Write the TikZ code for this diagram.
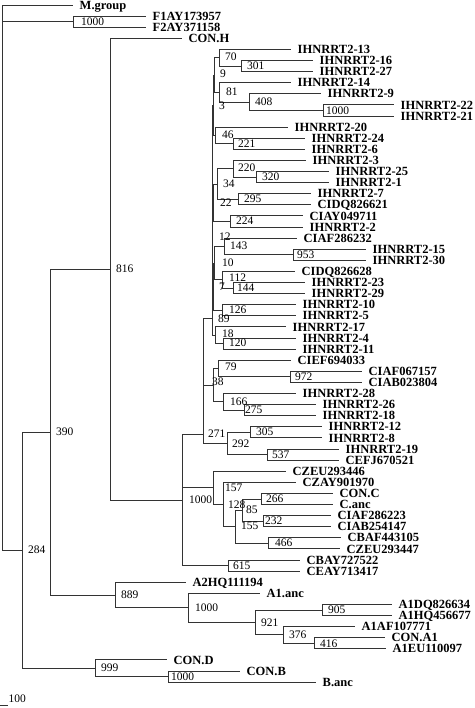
\documentclass[tikz,border=0pt]{standalone}
\usepackage{fontspec}
\setmainfont{Liberation Serif}
\begin{document}
\begin{tikzpicture}[x=1pt,y=-1pt,
  leaf/.style={anchor=west, inner xsep=6.5pt, inner ysep=0pt, text height=8.3pt, text depth=0pt, font=\bfseries\fontsize{12.5}{13}\selectfont},
  bs/.style={anchor=west, inner sep=0pt, text height=7.8pt, text depth=0pt, font=\fontsize{11.5}{12}\selectfont},
  br/.style={draw=black!80, line width=0.9pt}]
\useasboundingbox (0,0) rectangle (474,708);
% leaves
\node[leaf] (L1) at (73,5) {M.group};
\node[leaf] (L2) at (146,16.1) {F1AY173957};
\node[leaf] (L3) at (146,27.2) {F2AY371158};
\node[leaf] (L4) at (182,38.3) {CON.H};
\node[leaf] (L5) at (291,49.4) {IHNRRT2-13};
\node[leaf] (L6) at (313,60.5) {IHNRRT2-16};
\node[leaf] (L7) at (313,71.6) {IHNRRT2-27};
\node[leaf] (L8) at (291,82.7) {IHNRRT2-14};
\node[leaf] (L9) at (321,93.8) {IHNRRT2-9};
\node[leaf] (L10) at (394,104.9) {IHNRRT2-22};
\node[leaf] (L11) at (394,116.0) {IHNRRT2-21};
\node[leaf] (L12) at (288,127.1) {IHNRRT2-20};
\node[leaf] (L13) at (305,138.2) {IHNRRT2-24};
\node[leaf] (L14) at (305,149.3) {IHNRRT2-6};
\node[leaf] (L15) at (306,160.4) {IHNRRT2-3};
\node[leaf] (L16) at (329,171.5) {IHNRRT2-25};
\node[leaf] (L17) at (329,182.6) {IHNRRT2-1};
\node[leaf] (L18) at (311,193.7) {IHNRRT2-7};
\node[leaf] (L19) at (311,204.8) {CIDQ826621};
\node[leaf] (L20) at (303,215.9) {CIAY049711};
\node[leaf] (L21) at (303,227.0) {IHNRRT2-2};
\node[leaf] (L22) at (297,238.1) {CIAF286232};
\node[leaf] (L23) at (366,249.2) {IHNRRT2-15};
\node[leaf] (L24) at (366,260.3) {IHNRRT2-30};
\node[leaf] (L25) at (295,271.4) {CIDQ826628};
\node[leaf] (L26) at (305,282.5) {IHNRRT2-23};
\node[leaf] (L27) at (305,293.6) {IHNRRT2-29};
\node[leaf] (L28) at (296,304.7) {IHNRRT2-10};
\node[leaf] (L29) at (296,315.8) {IHNRRT2-5};
\node[leaf] (L30) at (286,326.9) {IHNRRT2-17};
\node[leaf] (L31) at (296,338.0) {IHNRRT2-4};
\node[leaf] (L32) at (296,349.1) {IHNRRT2-11};
\node[leaf] (L33) at (291,360.2) {CIEF694033};
\node[leaf] (L34) at (362,371.3) {CIAF067157};
\node[leaf] (L35) at (362,382.4) {CIAB023804};
\node[leaf] (L36) at (296,393.5) {IHNRRT2-28};
\node[leaf] (L37) at (316,404.6) {IHNRRT2-26};
\node[leaf] (L38) at (316,415.7) {IHNRRT2-18};
\node[leaf] (L39) at (322,426.8) {IHNRRT2-12};
\node[leaf] (L40) at (322,437.9) {IHNRRT2-8};
\node[leaf] (L41) at (339,449.0) {IHNRRT2-19};
\node[leaf] (L42) at (339,460.1) {CEFJ670521};
\node[leaf] (L43) at (286,471.2) {CZEU293446};
\node[leaf] (L44) at (296,482.3) {CZAY901970};
\node[leaf] (L45) at (333,493.4) {CON.C};
\node[leaf] (L46) at (333,504.5) {C.anc};
\node[leaf] (L47) at (331,515.6) {CIAF286223};
\node[leaf] (L48) at (331,526.7) {CIAB254147};
\node[leaf] (L49) at (341,537.8) {CBAF443105};
\node[leaf] (L50) at (340,548.9) {CZEU293447};
\node[leaf] (L51) at (300,560.0) {CBAY727522};
\node[leaf] (L52) at (300,571.1) {CEAY713417};
\node[leaf] (L53) at (186,582.2) {A2HQ111194};
\node[leaf] (L54) at (260,593.3) {A1.anc};
\node[leaf] (L55) at (392,604.4) {A1DQ826634};
\node[leaf] (L56) at (392,615.5) {A1HQ456677};
\node[leaf] (L57) at (355,626.6) {A1AF107771};
\node[leaf] (L58) at (385,637.7) {CON.A1};
\node[leaf] (L59) at (386,648.8) {A1EU110097};
\node[leaf] (L60) at (167,659.9) {CON.D};
\node[leaf] (L61) at (240,671.0) {CON.B};
\node[leaf] (L62) at (316,682.1) {B.anc};
% internal nodes
\coordinate (R) at (2,550.16);
\coordinate (NF) at (73,21.65);
\coordinate (N284) at (22,550.16);
\coordinate (N390) at (50,432.09);
\coordinate (N816) at (110,269.15);
\coordinate (C1000) at (182,500);
\coordinate (N271) at (203.5,434.5);
\coordinate (NBIG) at (212.3,318);
\coordinate (N3) at (213.3,105.24);
\coordinate (N9) at (214.2,75.05);
\coordinate (N70) at (219,57.73);
\coordinate (N301) at (241,66.05);
\coordinate (N81) at (219,92.41);
\coordinate (N408) at (249,102.13);
\coordinate (N1000b) at (323,110.45);
\coordinate (N46) at (215.5,135.43);
\coordinate (N221) at (233,143.75);
\coordinate (N12) at (212.8,237);
\coordinate (N22) at (213.5,202.7);
\coordinate (N34) at (217,183.99);
\coordinate (N220) at (233,168.73);
\coordinate (N320) at (256,177.05);
\coordinate (N295) at (238,199.25);
\coordinate (N224) at (230,221.45);
\coordinate (N7) at (213.2,286.66);
\coordinate (N10) at (214,263.08);
\coordinate (N143) at (224,246.43);
\coordinate (N953) at (293,254.75);
\coordinate (N112) at (222.5,279.73);
\coordinate (N144) at (233,288.05);
\coordinate (N126) at (222,310.25);
\coordinate (N18) at (215,335.23);
\coordinate (N120) at (223,343.55);
\coordinate (N38) at (213,385.18);
\coordinate (N79) at (218,368.53);
\coordinate (N972) at (290,376.85);
\coordinate (N166) at (223,401.83);
\coordinate (N275) at (244,410.15);
\coordinate (N292) at (227,443.45);
\coordinate (N305) at (250,432.35);
\coordinate (N537) at (267,454.55);
\coordinate (NB) at (213,487.85);
\coordinate (NX) at (223,504.5);
\coordinate (N155) at (235,526.73);
\coordinate (N85) at (242,510.05);
\coordinate (N266) at (261,498.95);
\coordinate (N232) at (263,521.15);
\coordinate (N466) at (268,543.35);
\coordinate (N615) at (228,565.55);
\coordinate (N889) at (115,595.03);
\coordinate (NA) at (188,607.87);
\coordinate (N921) at (255,622.44);
\coordinate (N905) at (322,609.95);
\coordinate (N376) at (283,634.93);
\coordinate (N416) at (314,643.25);
\coordinate (N999) at (95,668.23);
\coordinate (NBB) at (168,676.55);
% branches
\foreach \p/\c in {R/L1,R/NF,R/N284,NF/L2,NF/L3,N284/N390,N284/N999,N390/N816,N390/N889,
  N816/L4,N816/C1000,C1000/N271,C1000/NB,C1000/N615,N271/NBIG,N271/N38,N271/N292,
  NBIG/N3,NBIG/N12,NBIG/N18,N3/N9,N3/N46,N9/N70,N9/N81,N70/L5,N70/N301,N301/L6,N301/L7,
  N81/L8,N81/N408,N408/L9,N408/N1000b,N1000b/L10,N1000b/L11,N46/L12,N46/N221,N221/L13,N221/L14,
  N12/N22,N12/N7,N22/N34,N22/N224,N34/N220,N34/N295,N220/L15,N220/N320,N320/L16,N320/L17,
  N295/L18,N295/L19,N224/L20,N224/L21,N7/N10,N7/N126,N10/N143,N10/N112,N143/L22,N143/N953,
  N953/L23,N953/L24,N112/L25,N112/N144,N144/L26,N144/L27,N126/L28,N126/L29,N18/L30,N18/N120,
  N120/L31,N120/L32,N38/N79,N38/N166,N79/L33,N79/N972,N972/L34,N972/L35,N166/L36,N166/N275,
  N275/L37,N275/L38,N292/N305,N292/N537,N305/L39,N305/L40,N537/L41,N537/L42,
  NB/L43,NB/NX,NX/L44,NX/N155,N155/N85,N155/N466,N85/N266,N85/N232,N266/L45,N266/L46,
  N232/L47,N232/L48,N466/L49,N466/L50,N615/L51,N615/L52,N889/L53,N889/NA,NA/L54,NA/N921,
  N921/N905,N921/N376,N905/L55,N905/L56,N376/L57,N376/N416,N416/L58,N416/L59,
  N999/L60,N999/NBB,NBB/L61,NBB/L62}
  \draw[br] (\p) |- (\c);
% bootstrap values
\node[bs] (bF) at (81,21.65) {1000};
\node[bs] (b816) at (116,269) {816};
\node[bs] (b390) at (56,432) {390};
\node[bs] (b284) at (28,550) {284};
\node[bs] (b889) at (121,595) {889};
\node[bs] (bA) at (195,608) {1000};
\node[bs] (b921) at (261,622.5) {921};
\node[bs] (b905) at (328,610) {905};
\node[bs] (b376) at (289,635) {376};
\node[bs] (b416) at (320,643.5) {416};
\node[bs] (b999) at (101,668) {999};
\node[bs] (bBB) at (171,677) {1000};
\node[bs] (b70) at (225,57) {70};
\node[bs] (b301) at (247,65.5) {301};
\node[bs] (b9) at (220,74) {9};
\node[bs] (b81) at (226,92) {81};
\node[bs] (b408) at (255,102) {408};
\node[bs] (b1000b) at (326,110.5) {1000};
\node[bs] (b3) at (219,105.5) {3};
\node[bs] (b46) at (222,135) {46};
\node[bs] (b221) at (238,144) {221};
\node[bs] (b220) at (238,168) {220};
\node[bs] (b320) at (262,177) {320};
\node[bs] (b34) at (223,184) {34};
\node[bs] (b295) at (244,199) {295};
\node[bs] (b22) at (220,203) {22};
\node[bs] (b224) at (236,221) {224};
\node[bs] (b12) at (219,237) {12};
\node[bs] (b143) at (230,246) {143};
\node[bs] (b953) at (297,255) {953};
\node[bs] (b10) at (222,263) {10};
\node[bs] (b112) at (229,278) {112};
\node[bs] (b7) at (219,287) {7};
\node[bs] (b144) at (237,288) {144};
\node[bs] (b126) at (229,310) {126};
\node[bs] (b89) at (218,319) {89};
\node[bs] (b18) at (222,334) {18};
\node[bs] (b120) at (229,343) {120};
\node[bs] (b79) at (225,367) {79};
\node[bs] (b972) at (295,377) {972};
\node[bs] (b38) at (212,382) {38};
\node[bs] (b166) at (230,402) {166};
\node[bs] (b275) at (245,410) {275};
\node[bs] (b271) at (208,434) {271};
\node[bs] (b305) at (256,432) {305};
\node[bs] (b292) at (232,444) {292};
\node[bs] (b537) at (272,455) {537};
\node[bs] (bC) at (189,500) {1000};
\node[bs] (b157) at (225,488) {157};
\node[bs] (b128) at (228,505) {128};
\node[bs] (b85) at (246,510) {85};
\node[bs] (b266) at (266,499) {266};
\node[bs] (b232) at (265,521) {232};
\node[bs] (b155) at (241,526) {155};
\node[bs] (b466) at (275,543) {466};
\node[bs] (b615) at (233,566) {615};
% scale bar
\coordinate (sb1) at (0,705);
\coordinate (sb2) at (8,705);
\draw[br] (sb1) -- (sb2);
\node[bs] (sbl) at (8.5,699) {100};
\end{tikzpicture}
\end{document}
